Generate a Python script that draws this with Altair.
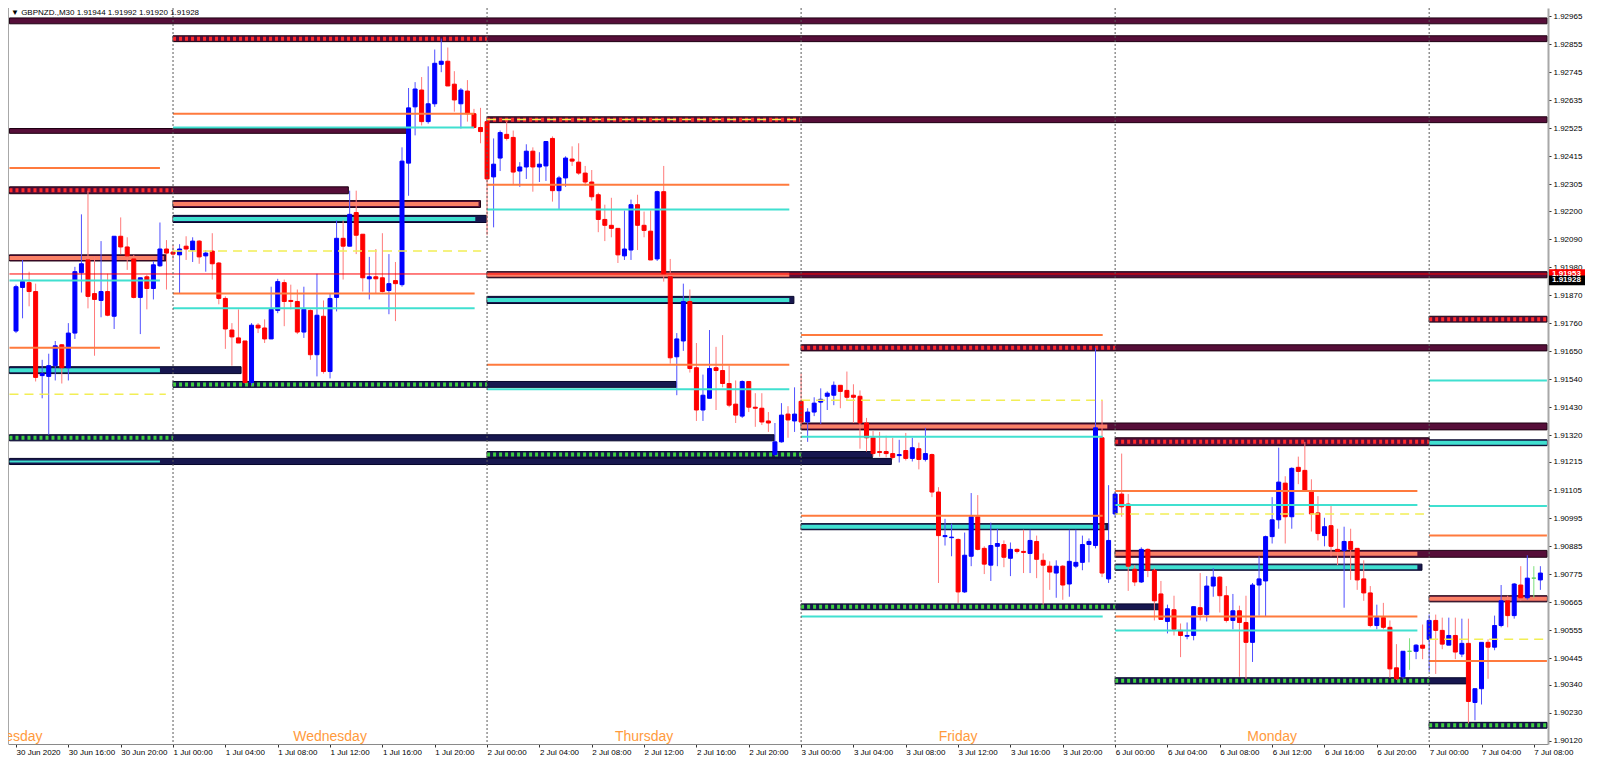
import altair as alt
import pandas as pd

# ---------------- candle data (GBPNZD M30, bar 0 = 30 Jun 12:00) ----------------
opens = [
    1.91729, 1.91900, 1.91919, 1.91884, 1.91554, 1.91551, 1.91593, 1.91675, 1.91585, 1.91721,
    1.91958, 1.92008, 1.91876, 1.91849, 1.91884, 1.91787, 1.92101, 1.92059, 1.92012, 1.91861,
    1.91942, 1.91896, 1.91985, 1.92051, 1.92039, 1.92028, 1.92062, 1.92047, 1.92082, 1.92024,
    1.92043, 1.91996, 1.91857, 1.91733, 1.91702, 1.91690, 1.91527, 1.91752, 1.91741, 1.91698,
    1.91810, 1.91919, 1.91849, 1.91845, 1.91725, 1.91810, 1.91636, 1.91787, 1.91570, 1.91861,
    1.92093, 1.92062, 1.92194, 1.92109, 1.91934, 1.91942, 1.91938, 1.91888, 1.91927, 1.91911,
    1.92388, 1.92609, 1.92675, 1.92551, 1.92621, 1.92776, 1.92788, 1.92698, 1.92621, 1.92671,
    1.92582, 1.92528, 1.92551, 1.92334, 1.92408, 1.92501, 1.92489, 1.92357, 1.92373, 1.92435,
    1.92373, 1.92377, 1.92485, 1.92280, 1.92330, 1.92404, 1.92392, 1.92349, 1.92314, 1.92264,
    1.92167, 1.92144, 1.92132, 1.92024, 1.92047, 1.92225, 1.92144, 1.92121, 1.92012, 1.92276,
    1.91942, 1.91628, 1.91690, 1.91845, 1.91585, 1.91419, 1.91465, 1.91585, 1.91574, 1.91523,
    1.91442, 1.91395, 1.91531, 1.91430, 1.91426, 1.91376, 1.91244, 1.91294, 1.91403, 1.91376,
    1.91453, 1.91372, 1.91411, 1.91450, 1.91473, 1.91477, 1.91516, 1.91496, 1.91477, 1.91473,
    1.91368, 1.91310, 1.91256, 1.91256, 1.91248, 1.91240, 1.91260, 1.91229, 1.91267, 1.91225,
    1.91244, 1.91097, 1.90922, 1.90918, 1.90911, 1.90705, 1.90845, 1.91000, 1.90876, 1.90810,
    1.90884, 1.90891, 1.90837, 1.90872, 1.90864, 1.90856, 1.90903, 1.90829, 1.90806, 1.90779,
    1.90806, 1.90736, 1.90806, 1.90821, 1.90891, 1.90887, 1.91310, 1.90756, 1.91011, 1.91089,
    1.91050, 1.90794, 1.90744, 1.90872, 1.90790, 1.90697, 1.90589, 1.90635, 1.90554, 1.90531,
    1.90534, 1.90643, 1.90616, 1.90728, 1.90763, 1.90690, 1.90593, 1.90631, 1.90585, 1.90507,
    1.90732, 1.90748, 1.90922, 1.90988, 1.91132, 1.91000, 1.91194, 1.91182, 1.91101, 1.91015,
    1.90926, 1.90965, 1.90872, 1.90868, 1.90903, 1.90876, 1.90756, 1.90701, 1.90573, 1.90604,
    1.90566, 1.90407, 1.90372, 1.90472, 1.90472, 1.90496, 1.90519, 1.90593, 1.90554, 1.90496,
    1.90534, 1.90461, 1.90503, 1.90271, 1.90325, 1.90507, 1.90488, 1.90573, 1.90670, 1.90612,
    1.90732, 1.90682, 1.90759, 1.90752,
]
highs = [
    1.91911, 1.92008, 1.91962, 1.91915, 1.91616, 1.91640, 1.91690, 1.91678, 1.91760, 1.91981,
    1.92187, 1.92280, 1.92020, 1.92082, 1.91954, 1.92101, 1.92175, 1.92097, 1.92028, 1.91938,
    1.91950, 1.92004, 1.92155, 1.92086, 1.92066, 1.92070, 1.92101, 1.92097, 1.92086, 1.92047,
    1.92113, 1.92000, 1.91865, 1.91760, 1.91814, 1.91690, 1.91760, 1.91760, 1.91775, 1.91903,
    1.91934, 1.91931, 1.91911, 1.91892, 1.91903, 1.91814, 1.91954, 1.91849, 1.91876, 1.92163,
    1.92163, 1.92280, 1.92280, 1.92109, 1.92020, 1.92051, 1.92113, 1.92031, 1.92000, 1.92450,
    1.92683, 1.92706, 1.92726, 1.92768, 1.92834, 1.92877, 1.92842, 1.92749, 1.92683, 1.92714,
    1.92601, 1.92605, 1.92563, 1.92485, 1.92516, 1.92551, 1.92516, 1.92392, 1.92462, 1.92450,
    1.92431, 1.92473, 1.92493, 1.92338, 1.92415, 1.92454, 1.92466, 1.92377, 1.92361, 1.92272,
    1.92225, 1.92252, 1.92132, 1.92202, 1.92245, 1.92264, 1.92198, 1.92202, 1.92280, 1.92377,
    1.92012, 1.91721, 1.91915, 1.91892, 1.91682, 1.91558, 1.91733, 1.91667, 1.91713, 1.91593,
    1.91535, 1.91535, 1.91531, 1.91485, 1.91485, 1.91411, 1.91368, 1.91446, 1.91434, 1.91508,
    1.91562, 1.91426, 1.91469, 1.91504, 1.91492, 1.91531, 1.91516, 1.91570, 1.91520, 1.91496,
    1.91388, 1.91337, 1.91333, 1.91318, 1.91310, 1.91302, 1.91329, 1.91310, 1.91291, 1.91349,
    1.91248, 1.91116, 1.90992, 1.90973, 1.90915, 1.90938, 1.91093, 1.91085, 1.90884, 1.90977,
    1.90953, 1.90907, 1.90899, 1.90876, 1.90949, 1.90949, 1.90926, 1.90856, 1.90825, 1.90829,
    1.90810, 1.90949, 1.90949, 1.90926, 1.90915, 1.91663, 1.91457, 1.91124, 1.91101, 1.91248,
    1.91089, 1.90810, 1.90880, 1.90876, 1.90798, 1.90748, 1.90655, 1.90690, 1.90581, 1.90585,
    1.90647, 1.90779, 1.90767, 1.90798, 1.90767, 1.90728, 1.90697, 1.90651, 1.90690, 1.90740,
    1.90845, 1.90926, 1.91077, 1.91271, 1.91159, 1.91194, 1.91236, 1.91294, 1.91147, 1.91081,
    1.90996, 1.91042, 1.90953, 1.90961, 1.90953, 1.90876, 1.90829, 1.90728, 1.90655, 1.90662,
    1.90593, 1.90500, 1.90472, 1.90523, 1.90500, 1.90577, 1.90616, 1.90616, 1.90604, 1.90604,
    1.90604, 1.90600, 1.90600, 1.90325, 1.90507, 1.90519, 1.90612, 1.90732, 1.90690, 1.90740,
    1.90806, 1.90849, 1.90806, 1.90806,
]
lows = [
    1.91721, 1.91779, 1.91826, 1.91531, 1.91465, 1.91322, 1.91535, 1.91523, 1.91535, 1.91698,
    1.91880, 1.91818, 1.91632, 1.91783, 1.91787, 1.91737, 1.92031, 1.91969, 1.91857, 1.91717,
    1.91814, 1.91853, 1.91981, 1.91892, 1.92008, 1.91876, 1.92008, 1.92000, 1.91993, 1.91962,
    1.91931, 1.91834, 1.91659, 1.91593, 1.91682, 1.91523, 1.91516, 1.91721, 1.91682, 1.91698,
    1.91799, 1.91748, 1.91814, 1.91717, 1.91702, 1.91616, 1.91551, 1.91562, 1.91543, 1.91806,
    1.91931, 1.92062, 1.92031, 1.91884, 1.91853, 1.91876, 1.91880, 1.91795, 1.91768, 1.91903,
    1.92260, 1.92497, 1.92536, 1.92543, 1.92609, 1.92745, 1.92691, 1.92590, 1.92524, 1.92551,
    1.92524, 1.92466, 1.92105, 1.92136, 1.92357, 1.92477, 1.92303, 1.92295, 1.92326, 1.92276,
    1.92314, 1.92318, 1.92237, 1.92206, 1.92295, 1.92377, 1.92342, 1.92299, 1.92241, 1.92117,
    1.92082, 1.92097, 1.91996, 1.92008, 1.92008, 1.92047, 1.92097, 1.92008, 1.92004, 1.91923,
    1.91601, 1.91477, 1.91651, 1.91566, 1.91376, 1.91376, 1.91465, 1.91419, 1.91508, 1.91430,
    1.91368, 1.91388, 1.91411, 1.91353, 1.91360, 1.91333, 1.91240, 1.91291, 1.91310, 1.91333,
    1.91360, 1.91294, 1.91395, 1.91364, 1.91419, 1.91438, 1.91426, 1.91457, 1.91368, 1.91267,
    1.91256, 1.91236, 1.91236, 1.91233, 1.91225, 1.91213, 1.91221, 1.91217, 1.91186, 1.91217,
    1.91077, 1.90740, 1.90887, 1.90845, 1.90662, 1.90701, 1.90806, 1.90868, 1.90775, 1.90748,
    1.90806, 1.90802, 1.90767, 1.90856, 1.90779, 1.90779, 1.90759, 1.90655, 1.90713, 1.90682,
    1.90674, 1.90686, 1.90798, 1.90790, 1.90821, 1.90876, 1.90763, 1.90740, 1.91000, 1.91000,
    1.90709, 1.90728, 1.90740, 1.90763, 1.90593, 1.90597, 1.90542, 1.90534, 1.90449, 1.90519,
    1.90515, 1.90593, 1.90589, 1.90686, 1.90624, 1.90585, 1.90558, 1.90372, 1.90364, 1.90430,
    1.90612, 1.90608, 1.90895, 1.90953, 1.90895, 1.90953, 1.91128, 1.91101, 1.90942, 1.90907,
    1.90884, 1.90845, 1.90810, 1.90643, 1.90752, 1.90713, 1.90670, 1.90566, 1.90558, 1.90558,
    1.90368, 1.90360, 1.90364, 1.90399, 1.90441, 1.90441, 1.90391, 1.90383, 1.90480, 1.90496,
    1.90441, 1.90449, 1.90189, 1.90201, 1.90263, 1.90364, 1.90476, 1.90566, 1.90566, 1.90600,
    1.90670, 1.90674, 1.90682, 1.90713,
]
closes = [
    1.91903, 1.91923, 1.91884, 1.91547, 1.91562, 1.91593, 1.91671, 1.91585, 1.91721, 1.91962,
    1.91993, 1.91865, 1.91853, 1.91884, 1.91791, 1.92101, 1.92059, 1.92024, 1.91861, 1.91938,
    1.91896, 1.91989, 1.92051, 1.92035, 1.92031, 1.92051, 1.92051, 1.92082, 1.92020, 1.92035,
    1.91993, 1.91857, 1.91737, 1.91706, 1.91682, 1.91527, 1.91752, 1.91741, 1.91698, 1.91814,
    1.91923, 1.91845, 1.91845, 1.91725, 1.91814, 1.91636, 1.91791, 1.91570, 1.91857, 1.92093,
    1.92062, 1.92187, 1.92105, 1.91938, 1.91942, 1.91934, 1.91884, 1.91915, 1.91915, 1.92396,
    1.92605, 1.92679, 1.92551, 1.92621, 1.92780, 1.92788, 1.92691, 1.92636, 1.92675, 1.92582,
    1.92528, 1.92512, 1.92326, 1.92384, 1.92508, 1.92485, 1.92353, 1.92373, 1.92435, 1.92373,
    1.92384, 1.92473, 1.92280, 1.92330, 1.92408, 1.92396, 1.92349, 1.92314, 1.92256, 1.92167,
    1.92144, 1.92132, 1.92028, 1.92051, 1.92225, 1.92144, 1.92124, 1.92008, 1.92276, 1.91954,
    1.91624, 1.91698, 1.91845, 1.91582, 1.91419, 1.91477, 1.91582, 1.91574, 1.91523, 1.91438,
    1.91399, 1.91531, 1.91430, 1.91426, 1.91372, 1.91368, 1.91294, 1.91399, 1.91380, 1.91403,
    1.91372, 1.91411, 1.91446, 1.91461, 1.91485, 1.91516, 1.91492, 1.91469, 1.91469, 1.91368,
    1.91310, 1.91248, 1.91252, 1.91248, 1.91233, 1.91244, 1.91229, 1.91271, 1.91225, 1.91248,
    1.91097, 1.90926, 1.90926, 1.90920, 1.90705, 1.90849, 1.91000, 1.90872, 1.90814, 1.90887,
    1.90895, 1.90841, 1.90872, 1.90864, 1.90860, 1.90907, 1.90833, 1.90810, 1.90783, 1.90806,
    1.90732, 1.90825, 1.90821, 1.90891, 1.90903, 1.91349, 1.90779, 1.90907, 1.91089, 1.91039,
    1.90806, 1.90744, 1.90872, 1.90790, 1.90670, 1.90597, 1.90639, 1.90558, 1.90534, 1.90534,
    1.90647, 1.90616, 1.90728, 1.90763, 1.90690, 1.90593, 1.90631, 1.90585, 1.90507, 1.90732,
    1.90756, 1.90922, 1.90988, 1.91136, 1.91000, 1.91190, 1.91178, 1.91101, 1.91011, 1.90934,
    1.90961, 1.90884, 1.90864, 1.90903, 1.90872, 1.90752, 1.90701, 1.90573, 1.90604, 1.90566,
    1.90403, 1.90364, 1.90472, 1.90472, 1.90496, 1.90484, 1.90593, 1.90554, 1.90500, 1.90534,
    1.90469, 1.90503, 1.90275, 1.90325, 1.90507, 1.90488, 1.90573, 1.90670, 1.90612, 1.90736,
    1.90682, 1.90759, 1.90759, 1.90779,
]

# ---------------- axis labels ----------------
time_tick_bars = list(range(0, 233, 8))
time_tick_labels = [
    "30 Jun 2020", "30 Jun 16:00", "30 Jun 20:00",
    "1 Jul 00:00", "1 Jul 04:00", "1 Jul 08:00", "1 Jul 12:00", "1 Jul 16:00", "1 Jul 20:00",
    "2 Jul 00:00", "2 Jul 04:00", "2 Jul 08:00", "2 Jul 12:00", "2 Jul 16:00", "2 Jul 20:00",
    "3 Jul 00:00", "3 Jul 04:00", "3 Jul 08:00", "3 Jul 12:00", "3 Jul 16:00", "3 Jul 20:00",
    "6 Jul 00:00", "6 Jul 04:00", "6 Jul 08:00", "6 Jul 12:00", "6 Jul 16:00", "6 Jul 20:00",
    "7 Jul 00:00", "7 Jul 04:00", "7 Jul 08:00",
]
price_ticks = [1.92965, 1.92855, 1.92745, 1.92635, 1.92525, 1.92415, 1.92305, 1.92200, 1.92090,
               1.91980, 1.91870, 1.91760, 1.91650, 1.91540, 1.91430, 1.91320, 1.91215, 1.91105,
               1.90995, 1.90885, 1.90775, 1.90665, 1.90555, 1.90445, 1.90340, 1.90230, 1.90120]

day_sep_bars = [24, 72, 120, 168, 216]
day_label_bars = [0, 48, 96, 144, 192]
day_label_names = ["Tuesday", "Wednesday", "Thursday", "Friday", "Monday"]

header_text = "\u25bc GBPNZD.,M30  1.91944 1.91992 1.91920 1.91928"

# ---------------- zones (supply = maroon, demand = navy) ----------------
zone_x0 = [-1, 24, -1, 72, -1, -1, 72, 216, 120, 120, 168, 168, 216,
           24, 24, 72, -1, 24, -1, 72, -1, 120, 120, 168, 168, 216, 216]
zone_x1 = [234, 234, 59.8, 234, 50.8, 22.9, 234, 234, 234, 234, 216, 234, 234,
           71.9, 71.0, 118.9, 34.4, 100.9, 115.9, 130.9, 133.8, 167.0, 174.8, 214.9, 221.7, 234, 234]
zone_hi = [1.92958, 1.92888, 1.92524, 1.92570, 1.92295, 1.92028, 1.91962, 1.91787, 1.91675,
           1.91368, 1.91310, 1.90868, 1.90690, 1.92183, 1.92241, 1.91865, 1.91589, 1.91531,
           1.91322, 1.91256, 1.91229, 1.90973, 1.90658, 1.90814, 1.90368, 1.91302, 1.90193]
zone_lo = [1.92935, 1.92865, 1.92505, 1.92547, 1.92268, 1.92004, 1.91938, 1.91764, 1.91651,
           1.91341, 1.91279, 1.90841, 1.90666, 1.92155, 1.92214, 1.91837, 1.91562, 1.91508,
           1.91298, 1.91232, 1.91205, 1.90949, 1.90635, 1.90790, 1.90344, 1.91279, 1.90170]
zone_kind = ["supply"] * 13 + ["demand", "supply"] + ["demand"] * 12

# inner colour fills of zones: (zone index, x0, x1, colour kind)
fill_zone = [5, 6, 9, 11, 12, 14, 13, 15, 16, 21, 23, 25]
fill_x0 = [-1, 72, 120, 168, 216, 24, 24, 72, -1, 120, 168, 216]
fill_x1 = [22.6, 118.2, 166.8, 214.2, 234, 70.7, 70.2, 118.2, 22.0, 166.5, 214.2, 234]
fill_kind = ["salmon"] * 6 + ["turq"] * 6

# hatched (fresh) part of zones
hatch_zone = [1, 3, 4, 7, 8, 10, 17, 18, 19, 22, 24, 26]
hatch_x0 = [24, 72, -1, 216, 120, 168, 24, -1, 72, 120, 168, 216]
hatch_x1 = [72, 119.8, 24, 234, 168, 216, 72, 24, 120, 168, 216, 234]

# thin level lines
line_x0 = [-1, -1, -1, -1, 24, 24, 24, 24, 72, 72, 72, 72, 120, 120, 120, 120,
           168, 168, 168, 168, 216, 216, 216, 216]
line_x1 = [22, 22, 22, 22, 70, 70, 70.1, 70.1, 118.2, 118.2, 118.2, 118.2,
           166.1, 166.1, 166.1, 166.1, 214.2, 214.2, 214.2, 214.2, 234, 234, 234, 234]
line_p = [1.92369, 1.91663, 1.91927, 1.91217, 1.92582, 1.92528, 1.91876, 1.91818,
          1.92303, 1.92206, 1.91597, 1.91500, 1.91713, 1.91314, 1.91004, 1.90608,
          1.91101, 1.91046, 1.90608, 1.90554, 1.91535, 1.91042, 1.90926, 1.90434]
line_kind = ["orange", "orange", "turq", "turq", "orange", "turq", "orange", "turq",
             "orange", "turq", "orange", "turq", "orange", "turq", "orange", "turq",
             "orange", "turq", "orange", "turq", "turq", "turq", "orange", "orange"]

# yellow dashed pivot lines
dash_x0 = [-1, 24, 72, 120, 168, 216]
dash_x1 = [22.9, 71.1, 119.8, 166.1, 215.2, 234]
dash_p = [1.91481, 1.92043, 1.92559, 1.91457, 1.91011, 1.90519]

bid_price = 1.91953
tag_prices = [1.91953, 1.91928]
tag_texts = ["1.91953", "1.91928"]
tag_colors = ["#FF0000", "#000000"]

# ---------------- styling ----------------
W, H = 1540, 736
XDOM = [-0.46, 233.4]
YDOM = [1.90108, 1.92997]
COL = {"supply": "#560E39", "demand": "#17174F", "salmon": "#FA8066", "turq": "#40E0D0",
       "orange": "#FF7A3D", "redhatch": "#FF2A2A", "greenhatch": "#3FCF3F", "yellow": "#F2EE55"}
FONT = "Liberation Sans"

bars = pd.DataFrame({"i": list(range(len(opens))), "o": opens, "h": highs, "l": lows, "c": closes})
bars["dir"] = ["up" if c > o else ("down" if c < o else "doji") for o, c in zip(opens, closes)]

zones = pd.DataFrame({"x0": zone_x0, "x1": zone_x1, "hi": zone_hi, "lo": zone_lo})
zones["fill"] = [COL[k] for k in zone_kind]
zones["stroke"] = ["#1E0012" if k == "supply" else "#05052A" for k in zone_kind]

fills = pd.DataFrame({"x0": fill_x0, "x1": fill_x1,
                      "p": [(zone_hi[z] + zone_lo[z]) / 2 for z in fill_zone],
                      "col": [COL[k] for k in fill_kind]})
hatches = pd.DataFrame({"x0": hatch_x0, "x1": hatch_x1,
                        "p": [(zone_hi[z] + zone_lo[z]) / 2 for z in hatch_zone],
                        "col": [COL["redhatch"] if zone_kind[z] == "supply" else COL["greenhatch"]
                                for z in hatch_zone]})
lines = pd.DataFrame({"x0": line_x0, "x1": line_x1, "p": line_p, "col": [COL[k] for k in line_kind]})
dashes = pd.DataFrame({"x0": dash_x0, "x1": dash_x1, "p": dash_p})
redline = pd.DataFrame({"x0": [-1], "x1": [234], "p": [bid_price]})
seps = pd.DataFrame({"i": day_sep_bars})
days = pd.DataFrame({"i": day_label_bars, "name": day_label_names})
tag_half = 0.00019
tags = pd.DataFrame({"p": tag_prices, "t": tag_texts, "col": tag_colors})
tags["top"] = tags["p"] + tag_half
tags["bot"] = tags["p"] - tag_half

label_expr = "[" + ",".join("'%s'" % s for s in time_tick_labels) + "][round(datum.value / 8)]"

xs = alt.Scale(domain=XDOM, nice=False, zero=False)
ys = alt.Scale(domain=YDOM, nice=False, zero=False)
XAX = alt.Axis(values=time_tick_bars, labelExpr=label_expr, title=None, orient="bottom", grid=False,
               tickSize=3, labelAlign="left", labelPadding=1, labelFontSize=8, labelFont=FONT,
               labelColor="#000000", domainColor="#8A8A8A", tickColor="#333333", labelFlush=False,
               labelOverlap=False, labelBaseline="top")
YAX = alt.Axis(values=price_ticks, format=".5f", title=None, orient="right", grid=False, tickSize=3,
               labelPadding=2, labelFontSize=8, labelFont=FONT, labelColor="#000000",
               domainColor="#A8A8A8", domainWidth=2, tickColor="#333333", labelOverlap=False,
               labelFlush=False)


def X(f):
    return alt.X(f, type="quantitative", scale=xs, axis=XAX)


def Y(f):
    return alt.Y(f, type="quantitative", scale=ys, axis=YAX)


dir_body = alt.Scale(domain=["up", "down", "doji"], range=["#0000FF", "#FF0000", "#5CD65C"])
dir_wick = alt.Scale(domain=["up", "down", "doji"], range=["#5050FF", "#FF7A7A", "#7CE07C"])

zone_layer = alt.Chart(zones).mark_rect(clip=True, strokeWidth=1).encode(
    x=X("x0"), x2="x1", y=Y("hi"), y2="lo",
    fill=alt.Fill("fill:N", scale=None), stroke=alt.Stroke("stroke:N", scale=None))
fill_layer = alt.Chart(fills).mark_rule(clip=True, strokeWidth=4).encode(
    x=X("x0"), x2="x1", y=Y("p"), color=alt.Color("col:N", scale=None))
hatch_layer = alt.Chart(hatches).mark_rule(clip=True, strokeWidth=4, strokeDash=[3, 3]).encode(
    x=X("x0"), x2="x1", y=Y("p"), color=alt.Color("col:N", scale=None))

wick_layer = alt.Chart(bars).mark_rule(strokeWidth=1, clip=True).encode(
    x=X("i"), y=Y("l"), y2="h", color=alt.Color("dir:N", scale=dir_wick, legend=None))
body_layer = alt.Chart(bars).mark_bar(size=4, strokeWidth=1, clip=True).encode(
    x=X("i"), y=Y("o"), y2="c",
    fill=alt.Fill("dir:N", scale=dir_body, legend=None),
    stroke=alt.Stroke("dir:N", scale=dir_body, legend=None))

line_layer = alt.Chart(lines).mark_rule(clip=True, strokeWidth=2).encode(
    x=X("x0"), x2="x1", y=Y("p"), color=alt.Color("col:N", scale=None))
dash_layer = alt.Chart(dashes).mark_rule(clip=True, strokeWidth=1.5, strokeDash=[9, 6],
                                         color=COL["yellow"]).encode(x=X("x0"), x2="x1", y=Y("p"))
red_layer = alt.Chart(redline).mark_rule(clip=True, strokeWidth=1, color="#FF0000").encode(
    x=X("x0"), x2="x1", y=Y("p"))
sep_layer = alt.Chart(seps).mark_rule(strokeWidth=1, strokeDash=[2, 2], color="#5A5A5A").encode(x=X("i"))
left_border = alt.Chart(pd.DataFrame({"k": [0]})).mark_rule(color="#A8A8A8", strokeWidth=1).encode(
    x=alt.value(0.5), y=alt.value(0), y2=alt.value(H))

day_layer = alt.Chart(days).mark_text(fontSize=14, font=FONT, color="#FF9A3C", baseline="alphabetic",
                                      align="center", clip=True).encode(
    x=X("i"), y=alt.value(H - 3), text="name:N")

tag_rect = alt.Chart(tags).mark_rect().encode(
    x=alt.value(W + 1), x2=alt.value(W + 37), y=Y("top"), y2="bot",
    fill=alt.Fill("col:N", scale=None))
tag_text = alt.Chart(tags).mark_text(align="left", baseline="middle", fontSize=8, font=FONT,
                                     color="#FFFFFF", fontWeight="bold").encode(
    x=alt.value(W + 4), y=Y("p"), text="t:N")

header = alt.Chart(pd.DataFrame({"t": [header_text]})).mark_text(
    align="left", baseline="top", fontSize=8, font=FONT, color="#000000").encode(
    x=alt.value(3), y=alt.value(1), text="t:N")

chart = alt.layer(
    zone_layer, fill_layer, hatch_layer, wick_layer, body_layer,
    line_layer, dash_layer, red_layer, sep_layer, left_border,
    day_layer, tag_rect, tag_text, header,
).properties(
    width=W, height=H,
    autosize=alt.AutoSizeParams(type="none"),
    padding={"left": 0, "top": 0, "right": 44, "bottom": 14},
    background="#FFFFFF",
).configure_view(stroke=None)

chart.save("out.html", embed_options={"renderer": "svg", "actions": False})
